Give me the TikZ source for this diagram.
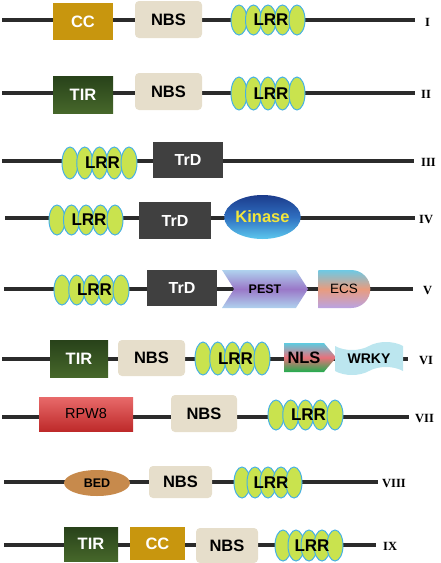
\documentclass[tikz,border=0pt]{standalone}
\usepackage{fontspec}
\setmainfont{Liberation Sans}
\newfontfamily\romfont{Liberation Serif}
\usepackage{tikz}
\usetikzlibrary{shapes,positioning}
\definecolor{ccgold}{HTML}{C8960E}
\definecolor{tirtop}{HTML}{28421A}
\definecolor{tirbot}{HTML}{46672A}
\definecolor{nbsbeige}{HTML}{E6DECB}
\definecolor{trdgray}{HTML}{404040}
\definecolor{lrrfill}{HTML}{C9E34E}
\definecolor{lrredge}{HTML}{45B0E5}
\definecolor{bbline}{HTML}{2B2B2B}
\definecolor{kintop}{HTML}{1C3C8C}
\definecolor{kinmid}{HTML}{2F6FC0}
\definecolor{kinbot}{HTML}{5CC8EE}
\definecolor{kintext}{HTML}{F2E63C}
\definecolor{pestlight}{HTML}{AFD2EE}
\definecolor{pestpurple}{HTML}{9A78C8}
\definecolor{ecstop}{HTML}{6EC9E4}
\definecolor{ecsmid}{HTML}{E99C7E}
\definecolor{ecsbot}{HTML}{B9A3E3}
\definecolor{nlstop}{HTML}{5ECBE0}
\definecolor{nlsmid}{HTML}{E8707A}
\definecolor{nlsbot}{HTML}{1FAE4E}
\definecolor{wrkyblue}{HTML}{BCE6EF}
\definecolor{rpwtop}{HTML}{E86A6A}
\definecolor{rpwbot}{HTML}{BE2A2A}
\definecolor{bedbrown}{HTML}{C78A4C}
\tikzset{
    x=1pt,y=-1pt,
    backbone/.style={line width=3.5pt,draw=bbline},
    sz/.style 2 args={minimum width=#1,minimum height=#2},
    dom/.style={rectangle,inner sep=0pt,font=\bfseries\fontsize{16.5}{16.5}\selectfont},
    ccbox/.style={dom,fill=ccgold,text=white},
    tirbox/.style={dom,top color=tirtop,bottom color=tirbot,text=white},
    nbsbox/.style={dom,rounded corners=4pt,fill=nbsbeige},
    trdbox/.style={dom,fill=trdgray,text=white,font=\bfseries\fontsize{16}{16}\selectfont},
    kinase/.style={dom,ellipse,top color=kintop,bottom color=kinbot,middle color=kinmid,text=kintext},
    pest/.style={dom,signal,signal from=west,signal to=east,signal pointer angle=115,
        top color=pestlight,bottom color=pestlight,middle color=pestpurple,
        font=\bfseries\fontsize{12.5}{12.5}\selectfont},
    ecs/.style={dom,rounded rectangle,rounded rectangle left arc=none,
        top color=ecstop,bottom color=ecsbot,middle color=ecsmid,
        font=\fontsize{13.5}{13.5}\selectfont},
    nls/.style={dom,signal,signal to=east,signal pointer angle=100,
        top color=nlstop,bottom color=nlsbot,middle color=nlsmid},
    wrky/.style={dom,tape,tape bend height=8,fill=wrkyblue,font=\bfseries\fontsize{14}{14}\selectfont},
    rpw/.style={dom,top color=rpwtop,bottom color=rpwbot,font=\fontsize{14.5}{14.5}\selectfont},
    bed/.style={dom,ellipse,fill=bedbrown,font=\bfseries\fontsize{12.5}{12.5}\selectfont},
    lrrel/.style={ellipse,fill=lrrfill,draw=lrredge,line width=1pt,minimum width=16,inner sep=0pt},
    lrrtext/.style={inner sep=0pt,font=\bfseries\fontsize{17}{17}\selectfont},
    rom/.style={anchor=west,inner sep=0pt,font=\romfont\bfseries\fontsize{12.5}{12.5}\selectfont}
}
% five repeats: name, left x, right x, y, height
\newcommand{\lrrdom}[5]{%
    \foreach \k in {0,...,4}
        \node[lrrel,minimum height=#5] at ({#2+8+\k*(#3-#2-16)/4},#4) {};
    \node[lrrtext] (#1) at ({(#2+#3)/2+3},#4) {LRR};
}

\begin{document}
\begin{tikzpicture}
    \useasboundingbox (0,0) rectangle (440,563);
    % I
    \coordinate (a1) at (2,20);
    \coordinate (b1) at (415,20);
    \draw[backbone] (a1) -- (b1);
    \node[ccbox,sz={60}{37}] (cc1) at (83,21.5) {CC};
    \node[nbsbox,sz={67}{37}] (nbs1) at (168.5,19.5) {NBS};
    \lrrdom{lrr1}{231}{305}{20}{30}
    \node[rom] (r1) at (425,22) {I};
    % II
    \coordinate (a2) at (2,93);
    \coordinate (b2) at (415,93);
    \draw[backbone] (a2) -- (b2);
    \node[tirbox,sz={60}{37}] (tir2) at (83,94.5) {TIR};
    \node[nbsbox,sz={67}{37}] (nbs2) at (168.5,91.5) {NBS};
    \lrrdom{lrr2}{231}{305}{93.5}{33}
    \node[rom] (r2) at (421,94) {II};
    % III
    \coordinate (a3) at (2,161);
    \coordinate (b3) at (414,161);
    \draw[backbone] (a3) -- (b3);
    \lrrdom{lrr3}{62}{137}{163}{32}
    \node[trdbox,sz={70}{36}] (trd3) at (188,160) {TrD};
    \node[rom] (r3) at (421,162) {III};
    % IV
    \coordinate (a4) at (5,218);
    \coordinate (b4) at (415,218);
    \draw[backbone] (a4) -- (b4);
    \lrrdom{lrr4}{49}{123}{220}{30}
    \node[trdbox,sz={72}{37}] (trd4) at (175,220.5) {TrD};
    \node[kinase,sz={75}{44}] (kin4) at (262.5,217) {Kinase};
    \node[rom] (r4) at (419,219) {IV};
    % V
    \coordinate (a5) at (4,289);
    \coordinate (b5) at (413,289);
    \draw[backbone] (a5) -- (b5);
    \lrrdom{lrr5}{54}{129}{290}{30}
    \node[trdbox,sz={70}{36}] (trd5) at (182,288) {TrD};
    \node[pest,sz={86}{38}] (pest5) at (265,289) {PEST};
    \node[ecs,sz={52}{38}] (ecs5) at (344,289) {ECS};
    \node[rom] (r5) at (423,290) {V};
    % VI
    \coordinate (a6) at (2,359);
    \coordinate (b6) at (408,359);
    \draw[backbone] (a6) -- (b6);
    \node[tirbox,sz={58}{37}] (tir6) at (79,358.5) {TIR};
    \node[nbsbox,sz={67}{36}] (nbs6) at (151.5,358) {NBS};
    \lrrdom{lrr6}{195}{270}{358.5}{33}
    \node[nls,sz={52}{29}] (nls6) at (304,357.5) {NLS};
    \node[wrky,sz={68}{33}] (wrky6) at (369,358.5) {WRKY};
    \node[rom] (r6) at (419,360) {VI};
    % VII
    \coordinate (a7) at (2,417);
    \coordinate (b7) at (409,417);
    \draw[backbone] (a7) -- (b7);
    \node[rpw,sz={94}{34}] (rpw7) at (86,414) {RPW8};
    \node[nbsbox,sz={66}{37}] (nbs7) at (204,413.5) {NBS};
    \lrrdom{lrr7}{268}{343}{415}{30}
    \node[rom] (r7) at (415,418) {VII};
    % VIII
    \coordinate (a8) at (4,482);
    \coordinate (b8) at (378,482);
    \draw[backbone] (a8) -- (b8);
    \node[bed,sz={66}{26}] (bed8) at (97,483) {BED};
    \node[nbsbox,sz={63}{32}] (nbs8) at (180.5,482) {NBS};
    \lrrdom{lrr8}{234}{302}{482.5}{31}
    \node[rom] (r8) at (382,483) {VIII};
    % IX
    \coordinate (a9) at (4,545);
    \coordinate (b9) at (376,545);
    \draw[backbone] (a9) -- (b9);
    \node[tirbox,sz={54}{34}] (tir9) at (91,544) {TIR};
    \node[ccbox,sz={55}{33}] (cc9) at (157.5,543.5) {CC};
    \node[nbsbox,sz={62}{35}] (nbs9) at (227,545.5) {NBS};
    \lrrdom{lrr9}{275}{343}{545.5}{31}
    \node[rom] (r9) at (383,546) {IX};
\end{tikzpicture}
\end{document}
